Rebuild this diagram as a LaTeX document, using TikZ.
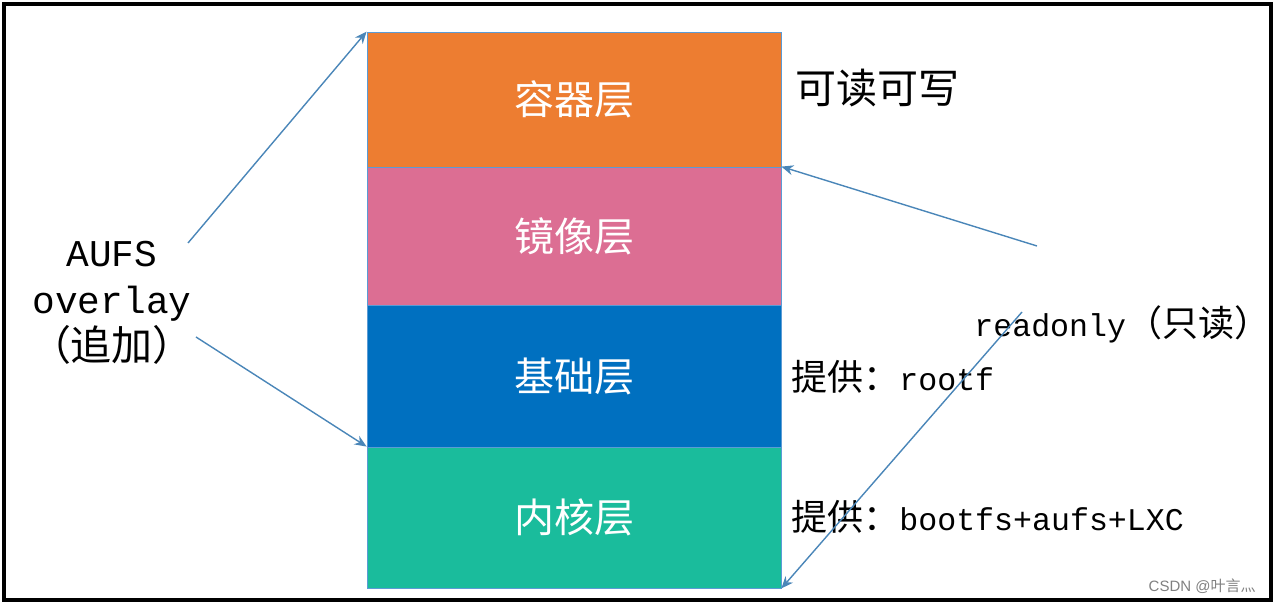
\documentclass[tikz,border=0pt]{standalone}
\usepackage{fontspec}
\setmainfont{Liberation Serif}
\newfontfamily\cjk{Noto Sans CJK SC}
\newfontfamily\mono{Liberation Mono}
\newfontfamily\wmfont{Liberation Sans}
\usetikzlibrary{arrows.meta}

\definecolor{layorange}{HTML}{ED7D31}
\definecolor{laypink}{HTML}{DC6E93}
\definecolor{layblue}{HTML}{0070C0}
\definecolor{layteal}{HTML}{1ABC9C}
\definecolor{arrowblue}{HTML}{4A86B8}
\definecolor{edgeblue}{HTML}{5B9BD5}

\newcommand{\bigcjk}{\cjk\fontsize{20.5pt}{23.5pt}\selectfont}
\newcommand{\midcjk}{\cjk\fontsize{18pt}{21pt}\selectfont}
\newcommand{\bigmono}{\mono\fontsize{18.9pt}{23.5pt}\selectfont}
\newcommand{\midmono}{\mono\fontsize{15.8pt}{21pt}\selectfont}

\begin{document}
\begin{tikzpicture}[x=0.5pt,y=-0.5pt,
  layer/.style={draw=edgeblue,line width=0.4pt,minimum width=207pt,
    minimum height=#1,inner sep=0pt,text=white,
    font=\cjk\fontsize{20pt}{23pt}\selectfont},
  note/.style={inner sep=0pt,anchor=west},
  pointer/.style={arrowblue,line width=0.7pt,-{Stealth[length=6pt,width=5pt]}}]
\useasboundingbox (0,0) rectangle (1275,603);
\draw[line width=1.6pt] (4,4) rectangle (1271,600);

% the four layers
\node[layer=67.5pt,fill=layorange] (cont) at (574,99.5) {容器层};
\node[layer=69pt,fill=laypink]    (img)  at (574,236)  {镜像层};
\node[layer=71pt,fill=layblue]    (base) at (574,376)  {基础层};
\node[layer=70.5pt,fill=layteal]  (kern) at (574,517.5) {内核层};

% notes on the right
\node[note] (rw)   at (795,88)  {\bigcjk 可读可写};
\node[note] (root) at (791,377) {\midcjk 提供：\midmono rootf};
\node[note] (boot) at (791,517) {\midcjk 提供：\midmono bootfs+aufs+LXC};
\node[note] (ro)   at (974,324) {\midmono readonly\midcjk （只读）};

% the left label
\node[inner sep=0pt,align=center,font=\fontsize{18.9pt}{23.5pt}\selectfont]
  (aufs) at (112,303) {\bigmono AUFS\\\bigmono overlay\\\bigcjk （追加）};

\coordinate (aufsup) at (188,243);
\coordinate (aufsdn) at (196,337);
\coordinate (roup)   at (1037,246);
\coordinate (rodn)   at (1022,312);

\draw[pointer] (aufsup) -- (cont.north west);
\draw[pointer] (aufsdn) -- (kern.north west);
\draw[pointer] (roup) -- (img.north east);
\draw[pointer] (rodn) -- (kern.south east);

\node[inner sep=0pt,anchor=east,text=gray,font=\wmfont\fontsize{7.5pt}{9pt}\selectfont]
  (mark) at (1256,586) {CSDN @{\cjk 叶言灬}};
\end{tikzpicture}
\end{document}
